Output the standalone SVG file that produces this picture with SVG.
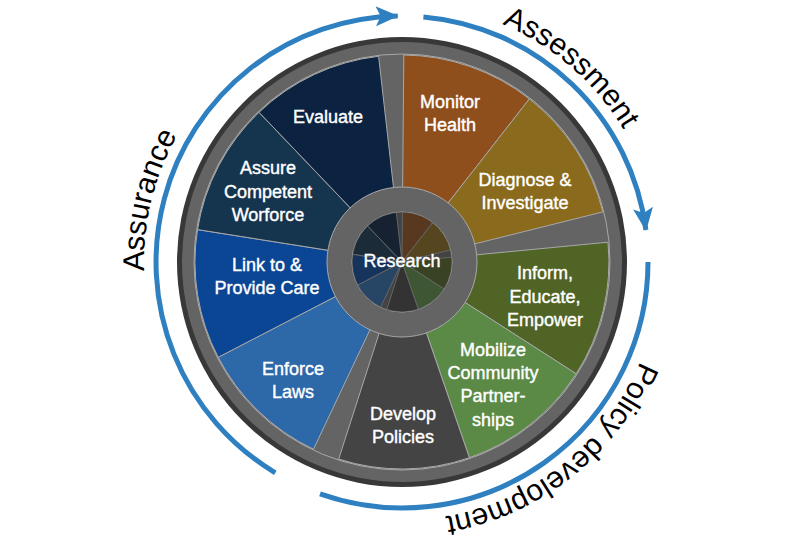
<svg xmlns="http://www.w3.org/2000/svg" width="806" height="542" viewBox="0 0 806 542">
<style>
.w{stroke:#a8a8a8;stroke-width:1}
.t{font-family:"Liberation Sans",Arial,sans-serif;font-size:18px;fill:#fff;stroke:#fff;stroke-width:0.4;text-anchor:middle}
.big{font-family:"Liberation Sans",Arial,sans-serif;font-size:30px;fill:#000}
.arc{fill:none;stroke:#2f80c0;stroke-width:5}
</style>
<defs>
<marker id="ah" markerUnits="userSpaceOnUse" markerWidth="24" markerHeight="22" refX="22" refY="10" orient="auto"><path d="M0,0 L23,10 L0,20 L5,10 z" fill="#2f80c0"/></marker>
<path id="lp" d="M402,520 A258,258 0 1 1 402,4 A258,258 0 1 1 402,520"/>
</defs>
<rect width="806" height="542" fill="#fff"/>
<g id="connectors">
<path class="arc" d="M275.3,472.8 A246,246 0 0 1 397.7,16.0" marker-end="url(#ah)"/>
<path class="arc" d="M423.4,16.9 A246,246 0 0 1 645.9,229.9" marker-end="url(#ah)"/>
<path class="arc" d="M648,262 A246,246 0 0 1 320,493.9"/>
</g>
<g id="labels">
<text class="big"><textPath href="#lp" startOffset="396">Assurance</textPath></text>
<text class="big"><textPath href="#lp" startOffset="913">Assessment</textPath></text>
<text class="big"><textPath href="#lp" startOffset="1317">Policy development</textPath></text>
</g>
<g id="rim">
<circle cx="402" cy="262" r="225" fill="#383838"/>
<circle cx="402" cy="262" r="220" fill="#646464"/>
<circle cx="402" cy="262" r="208" fill="none" stroke="#a8a8a8" stroke-width="1"/>
</g>
<g id="monitor"><path class="w" fill="#8e4f1c" d="M402,262 L403.8,55 A207,207 0 0 1 529.4,98.9 Z"/><text class="t" x="450" y="108">Monitor</text><text class="t" x="450" y="131">Health</text></g>
<g id="diagnose"><path class="w" fill="#8a6a1c" d="M402,262 L529.4,98.9 A207,207 0 0 1 602.9,211.9 Z"/><text class="t" x="525" y="186">Diagnose &amp;</text><text class="t" x="525" y="209">Investigate</text></g>
<g id="inform"><path class="w" fill="#506426" d="M402,262 L608,242.2 A207,207 0 0 1 576.2,373.8 Z"/><text class="t" x="545" y="279">Inform,</text><text class="t" x="545" y="303">Educate,</text><text class="t" x="545" y="326">Empower</text></g>
<g id="mobilize"><path class="w" fill="#5a8a46" d="M402,262 L576.2,373.8 A207,207 0 0 1 469.4,457.7 Z"/><text class="t" x="493" y="356">Mobilize</text><text class="t" x="493" y="379">Community</text><text class="t" x="493" y="402">Partner-</text><text class="t" x="493" y="426">ships</text></g>
<g id="develop"><path class="w" fill="#444" d="M402,262 L469.4,457.7 A207,207 0 0 1 338.7,459.1 Z"/><text class="t" x="403" y="420">Develop</text><text class="t" x="403" y="443">Policies</text></g>
<g id="enforce"><path class="w" fill="#2d68a8" d="M402,262 L313.5,449.2 A207,207 0 0 1 218.2,357.3 Z"/><text class="t" x="293" y="375">Enforce</text><text class="t" x="293" y="398">Laws</text></g>
<g id="link"><path class="w" fill="#0b4694" d="M402,262 L218.2,357.3 A207,207 0 0 1 197.5,229.6 Z"/><text class="t" x="267" y="271">Link to &amp;</text><text class="t" x="267" y="294">Provide Care</text></g>
<g id="assure"><path class="w" fill="#15354f" d="M402,262 L197.5,229.6 A207,207 0 0 1 259,112.3 Z"/><text class="t" x="268" y="174">Assure</text><text class="t" x="268" y="198">Competent</text><text class="t" x="268" y="221">Worforce</text></g>
<g id="evaluate"><path class="w" fill="#0b2241" d="M402,262 L259,112.3 A207,207 0 0 1 378.6,56.3 Z"/><text class="t" x="328" y="123">Evaluate</text></g>
<g id="research">
<path fill="#646464" fill-rule="evenodd" stroke="#a8a8a8" stroke-width="1" d="M327,262 A75,75 0 1 0 477,262 A75,75 0 1 0 327,262 Z M352,262 A50,50 0 1 1 452,262 A50,50 0 1 1 352,262 Z"/>
<circle cx="402" cy="262" r="50" fill="#222" fill-opacity="0.5"/>
<text class="t" x="402" y="267">Research</text>
</g>
</svg>
